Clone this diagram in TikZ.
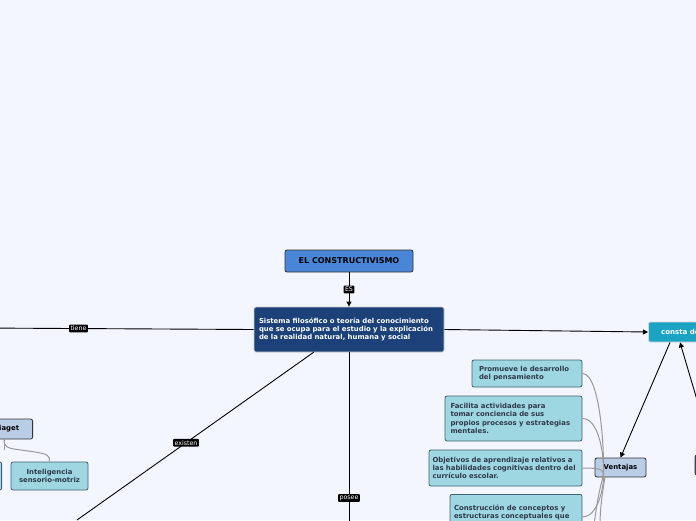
\documentclass[tikz,border=0pt]{standalone}
\usepackage{fontspec}
\setmainfont{DejaVu Sans}
\usetikzlibrary{arrows.meta}
\definecolor{bg}{HTML}{F3F6FE}
\definecolor{titlec}{HTML}{4A86D8}
\definecolor{mainc}{HTML}{1B4178}
\definecolor{constac}{HTML}{1AA3C2}
\definecolor{lblue}{HTML}{B9CDE6}
\definecolor{leafc}{HTML}{9ED6E2}
\definecolor{leafb}{HTML}{3F6470}
\definecolor{txt}{HTML}{2E3A4A}
\tikzset{
  x=1pt,y=-1pt,
  box/.style={draw=#1,rounded corners=2pt,line width=0.8pt,inner sep=0pt,font=\bfseries\fontsize{6.9}{8.4}\selectfont},
  leaf/.style={box=leafb,fill=leafc,text=txt,align=left},
  lbl/.style={fill=black,text=white,rounded corners=1pt,inner sep=1.5pt,font=\fontsize{6.3}{7}\selectfont},
  conn/.style={line width=0.9pt,black},
  arr/.style={conn,-{Triangle[length=5pt,width=5pt]}},
  soft/.style={draw=gray!80,line width=1pt},
}
\begin{document}
\hyphenpenalty=10000
\exhyphenpenalty=10000
\begin{tikzpicture}
\fill[bg] (0,0) rectangle (696,520);
\useasboundingbox (0,0) rectangle (696,520);
\clip (0,0) rectangle (696,520);
% nodes
\node[box=black!80,fill=titlec,minimum width=128pt,minimum height=22pt,font=\bfseries\fontsize{8}{9}\selectfont] (t) at (349,261) {EL CONSTRUCTIVISMO};
\node[box=gray!40,fill=mainc,text=white,align=left,minimum width=190pt,minimum height=45pt,text width=180pt] (m) at (349,329.5) {Sistema filosófico o teoría del conocimiento que se ocupa para el estudio y la explicación de la realidad natural, humana y social};
\node[box=gray!30,fill=constac,text=white,minimum width=60pt,minimum height=20pt,anchor=west,font=\bfseries\fontsize{7}{8}\selectfont] (c) at (648,332) {\hspace*{4pt}consta de\hfill};
\node[box=black!80,fill=lblue,minimum width=51pt,minimum height=19pt] (v) at (620.5,467.5) {Ventajas};
\node[box=black!80,fill=black!70,minimum width=10pt,minimum height=20pt] (rb) at (700,465) {};
\node[leaf,minimum width=110pt,minimum height=27pt,text width=96pt] (l1) at (527,373.5) {Promueve le desarrollo del pensamiento};
\node[leaf,minimum width=137pt,minimum height=45pt,text width=126pt] (l2) at (513.5,418.5) {Facilita actividades para tomar conciencia de sus propios procesos y estrategias mentales.};
\node[leaf,minimum width=153pt,minimum height=36pt,text width=146pt] (l3) at (505.5,468) {Objetivos de aprendizaje relativos a las habilidades cognitivas dentro del currículo escolar.};
\node[leaf,minimum width=132pt,minimum height=45pt,text width=124pt,anchor=north] (l4) at (516,494) {Construcción de conceptos y estructuras conceptuales que orienten el aprendizaje};
\node[box=black!80,fill=lblue,minimum width=50pt,minimum height=20pt,anchor=east] (p) at (33,429) {\hfill Piaget\hspace*{2pt}};
\node[leaf,align=center,minimum width=77pt,minimum height=28pt] (i) at (49.5,476) {Inteligencia\\sensorio-motriz};
\node[leaf,minimum width=20pt,minimum height=28pt,anchor=east] (i0) at (2,476) {};
% connectors
\draw[arr] (t) -- node[lbl]{ES} (m);
\draw[conn] (m.west) -- node[lbl,pos=0.64]{tiene} (-20,328);
\draw[arr] (m.east) -- (c.west);
\draw[arr] (c.south west)++(22,0) coordinate (cs) (cs) -- (v.north);
\coordinate (rr) at (700,410);
\draw[arr] (rr) -- ([xshift=32pt]c.south west);
\coordinate (e1) at (77,520);
\draw[conn] (314,352) -- node[lbl,pos=0.54]{existen} (e1);
\coordinate (e2) at (349,530);
\draw[conn] (m.south) -- node[lbl,pos=0.82]{posee} (e2);
% soft connectors
\foreach \n in {l1,l2,l3,l4}{\draw[soft] (\n.east) .. controls +(20,0) and (605,470) .. (603,477);}
\draw[soft] (603,477) .. controls (598,495) and (596,510) .. (594,525);
\draw[soft] (605,477) .. controls (602,495) and (600,510) .. (600,525);
\draw[soft] (4,439) .. controls (4,450) and (10,448) .. (35,452) .. controls (48,454) and (50,456) .. (i.north);
\draw[soft] (4,439) -- (4,450);
\end{tikzpicture}
\end{document}
